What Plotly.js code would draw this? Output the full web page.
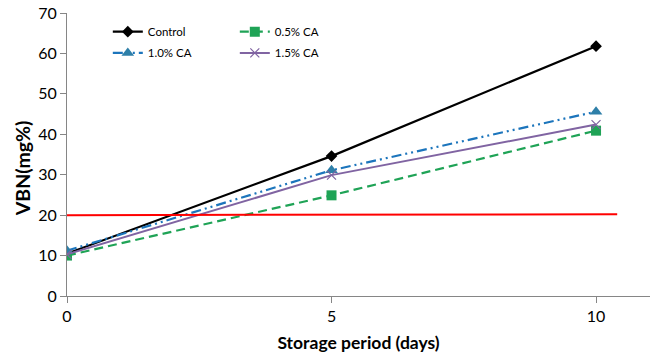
<!DOCTYPE html>
<html>
<head>
<meta charset="utf-8">
<script src="https://cdn.plot.ly/plotly-3.0.1.min.js"></script>
<style>html,body{margin:0;padding:0;background:#fff;}#chart{width:658px;height:361px;}</style>
</head>
<body>
<div id="chart"></div>
<script>
const days = [0, 5, 10];
const control = [10.5, 34.6, 61.8];
const ca05 = [10.0, 24.9, 40.9];
const ca10 = [11.2, 31.1, 45.6];
const ca15 = [10.3, 29.9, 42.4];
const limitX = [0, 10.4];
const limitY = [20.0, 20.2];
const xTitle = 'Storage period (days)';
const yTitle = 'VBN(mg%)';

const FONT = 'Lato, "Liberation Sans", sans-serif';

const traces = [
  {x: days, y: control, name: 'Control', mode: 'lines+markers', legend: 'legend',
   line: {color: '#000000', width: 2.2}, marker: {symbol: 'diamond', size: 9, color: '#000000'}},
  {x: days, y: ca05, name: '0.5% CA', mode: 'lines+markers', legend: 'legend',
   line: {color: '#1FA356', width: 2.2, dash: '9px,5px'}, marker: {symbol: 'square', size: 10, color: '#1FA356'}},
  {x: days, y: ca10, name: '1.0% CA', mode: 'lines+markers', legend: 'legend2',
   line: {color: '#1C75BC', width: 2.2, dash: '10px,4px,2px,4px,2px,4px'}, marker: {symbol: 'triangle-up', size: 11, color: '#2E7FA8'}},
  {x: days, y: ca15, name: '1.5% CA', mode: 'lines+markers', legend: 'legend2',
   line: {color: '#8064A2', width: 2}, marker: {symbol: 'x-thin', size: 9, line: {color: '#8064A2', width: 1.2}, color: '#8064A2'}},
  {x: limitX, y: limitY, name: 'limit', mode: 'lines', showlegend: false,
   line: {color: '#FF0000', width: 2}}
];

const layout = {
  width: 658, height: 361,
  margin: {l: 67, r: 8, t: 13, b: 65},
  paper_bgcolor: '#ffffff', plot_bgcolor: '#ffffff',
  font: {family: FONT, size: 15, color: '#000'},
  showlegend: true,
  xaxis: {
    range: [0, 11.02], tickvals: days, ticktext: ['0', '5', '10'],
    showgrid: false, zeroline: false, showline: true, linecolor: '#868686', linewidth: 1,
    ticks: 'outside', ticklen: 6, tickcolor: '#868686',
    tickfont: {family: FONT, size: 16},
    title: {text: '<b>' + xTitle + '</b>', font: {family: FONT, size: 17.5}, standoff: 12}
  },
  yaxis: {
    range: [0, 70], dtick: 10,
    showgrid: false, zeroline: false, showline: true, linecolor: '#868686', linewidth: 1,
    ticks: 'outside', ticklen: 6, tickcolor: '#868686',
    tickfont: {family: FONT, size: 16}
  },
  annotations: [{
    text: '<b>' + yTitle + '</b>', textangle: -90, showarrow: false,
    xref: 'paper', yref: 'paper', x: -0.077, y: 0.452, xanchor: 'center', yanchor: 'middle',
    font: {family: FONT, size: 19.5, color: '#000'}
  }],
  legend: {orientation: 'h', x: 0.07, y: 0.934, xanchor: 'left', yanchor: 'middle',
    entrywidth: 82, font: {family: FONT, size: 11.5}, bgcolor: 'rgba(0,0,0,0)', itemwidth: 30},
  legend2: {orientation: 'h', x: 0.07, y: 0.859, xanchor: 'left', yanchor: 'middle',
    entrywidth: 82, font: {family: FONT, size: 11.5}, bgcolor: 'rgba(0,0,0,0)', itemwidth: 30}
};

Plotly.newPlot('chart', traces, layout, {displayModeBar: false, staticPlot: true});
</script>
</body>
</html>
